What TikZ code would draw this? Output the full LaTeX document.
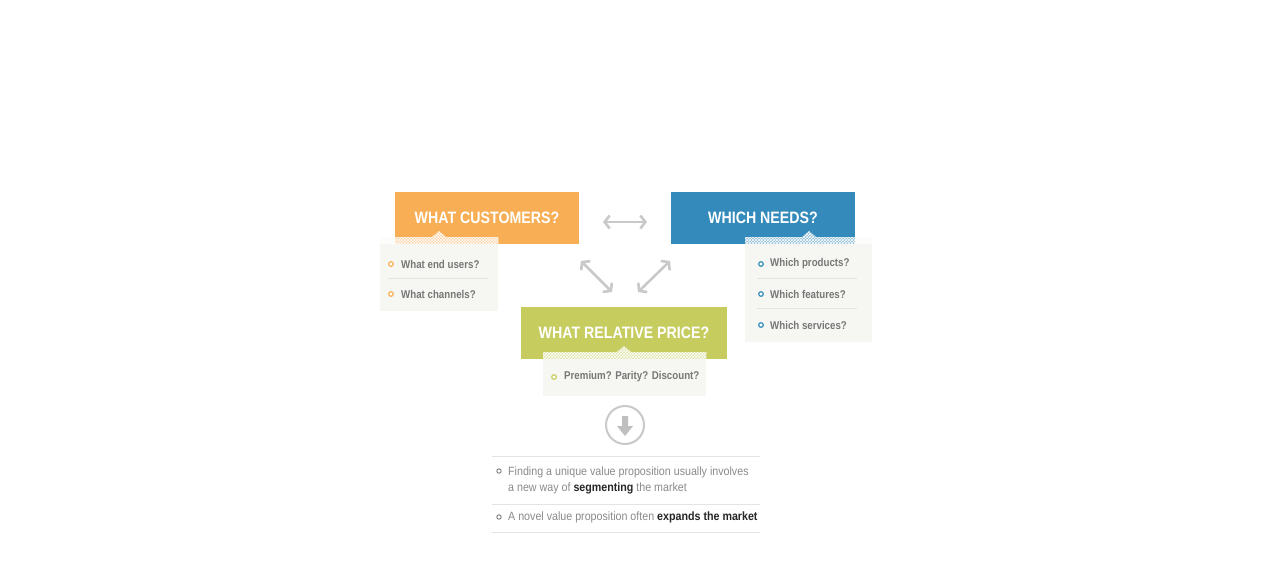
\documentclass[tikz,border=0pt]{standalone}
\usepackage{fontspec}
\setmainfont[FakeStretch=0.86]{Liberation Sans}
\newfontfamily\notefont[FakeStretch=0.89]{Liberation Sans}
\usetikzlibrary{arrows.meta,patterns}
\definecolor{custorange}{HTML}{F8AE54}
\definecolor{needsblue}{HTML}{348BBB}
\definecolor{pricegreen}{HTML}{C6CC5E}
\definecolor{panelgray}{HTML}{F6F6F3}
\definecolor{textgray}{HTML}{777777}
\definecolor{arrowgray}{HTML}{C9C9C9}
\definecolor{rulegray}{HTML}{E4E4E4}
\begin{document}
\begin{tikzpicture}[x=1pt,y=-1pt,
  titlebox/.style={minimum width=184pt, minimum height=52pt, inner sep=0pt,
    text depth=0pt, text=white, font=\fontsize{16.5}{18}\selectfont\bfseries},
  panel/.style={fill=panelgray, inner sep=0pt, anchor=north west},
  item/.style={anchor=west, inner sep=0pt, text=textgray,
    font=\fontsize{11.3}{13}\selectfont\bfseries},
  note/.style={anchor=west, inner sep=0pt, text=textgray!85, align=left,
    font=\notefont\fontsize{12}{16}\selectfont},
  bullet/.style={circle, draw=#1, line width=1.2pt, fill=white,
    inner sep=0pt, minimum size=4.6pt},
  rule/.style={draw=rulegray, line width=0.8pt},
  link/.style={draw=arrowgray, line width=2.6pt,
    {Straight Barb[length=5pt,width=13pt]}-{Straight Barb[length=5pt,width=13pt]}}]
\useasboundingbox[fill=white] (0,0) rectangle (1280,579);

% panels under the title boxes
\node[panel, minimum width=118pt, minimum height=74pt] (custpanel) at (380,237) {};
\node[panel, minimum width=127pt, minimum height=105pt] (needspanel) at (745,237) {};
\node[panel, minimum width=163pt, minimum height=44pt] (pricepanel) at (543,352) {};

% title boxes
\node[titlebox, fill=custorange] (cust) at (487,218) {WHAT CUSTOMERS?};
\node[titlebox, fill=needsblue] (needs) at (763,218) {WHICH NEEDS?};
\node[titlebox, fill=pricegreen, minimum width=206pt] (price) at (624,333) {WHAT RELATIVE PRICE?};

% hatched strips with notch
\foreach \p/\b/\n in {custpanel/cust/439, needspanel/needs/809, pricepanel/price/624}{
  \path[fill=white, fill opacity=0.45]
    (\p.north west) -- (\n-7,0 |- \p.north) -- ([yshift=6pt]\n,0 |- \p.north) -- (\n+7,0 |- \p.north)
    -- (\p.north east) -- (\p.east |- \b.south) -- (\p.west |- \b.south) -- cycle;
  \path[pattern=crosshatch, pattern color=white]
    (\p.north west) -- (\n-7,0 |- \p.north) -- ([yshift=6pt]\n,0 |- \p.north) -- (\n+7,0 |- \p.north)
    -- (\p.north east) -- (\p.east |- \b.south) -- (\p.west |- \b.south) -- cycle;
}

% items
\foreach \t/\y [count=\i] in {What end users?/264, What channels?/294}{
  \node[bullet=custorange] (custdot\i) at (391,\y) {};
  \node[item] (custitem\i) at (401,\y) {\t};
}
\draw[rule] (388,278) -- (488,278);
\foreach \t/\y [count=\i] in {Which products?/264, Which features?/294, Which services?/325}{
  \node[bullet=needsblue] (needsdot\i) at (761,\y) {};
  \node[item] (needsitem\i) at (770,\y) {\t};
}
\draw[rule] (757,278) -- (857,278);
\draw[rule] (757,308) -- (857,308);
\node[bullet=pricegreen] (pricedot) at (554,377) {};
\node[item] (priceitem) at (564,377) {Premium? Parity? Discount?};

% arrows between the questions
\coordinate (ca) at (603,222);
\coordinate (na) at (647,222);
\coordinate (cb) at (581,261);
\coordinate (pb) at (612,292);
\coordinate (nb) at (670,261);
\coordinate (pc) at (638,292);
\draw[link] (ca) -- (na);
\draw[link] (cb) -- (pb);
\draw[link] (nb) -- (pc);

% down arrow
\node[circle, draw=arrowgray, line width=2pt, minimum size=38pt, inner sep=0pt] (down) at (625,425) {};
\fill[black!25] (622,416) -- (628,416) -- (628,426) -- (633,426) -- (625,436)
  -- (617,426) -- (622,426) -- cycle;

% conclusions
\draw[rule] (492,456) -- (760,456);
\draw[rule] (492,504) -- (760,504);
\draw[rule] (492,532) -- (760,532);
\node[bullet=textgray, line width=0.9pt, minimum size=4.4pt] (notedot1) at (499,471) {};
\node[note, anchor=north west] (note1) at (508,466.5)
  {Finding a unique value proposition usually involves\\
   a new way of \textcolor{black!85}{\bfseries segmenting} the market};
\node[bullet=textgray, line width=0.9pt, minimum size=4.4pt] (notedot2) at (499,517) {};
\node[note] (note2) at (508,517.5)
  {A novel value proposition often \textcolor{black!85}{\bfseries expands the market}};
\end{tikzpicture}
\end{document}
